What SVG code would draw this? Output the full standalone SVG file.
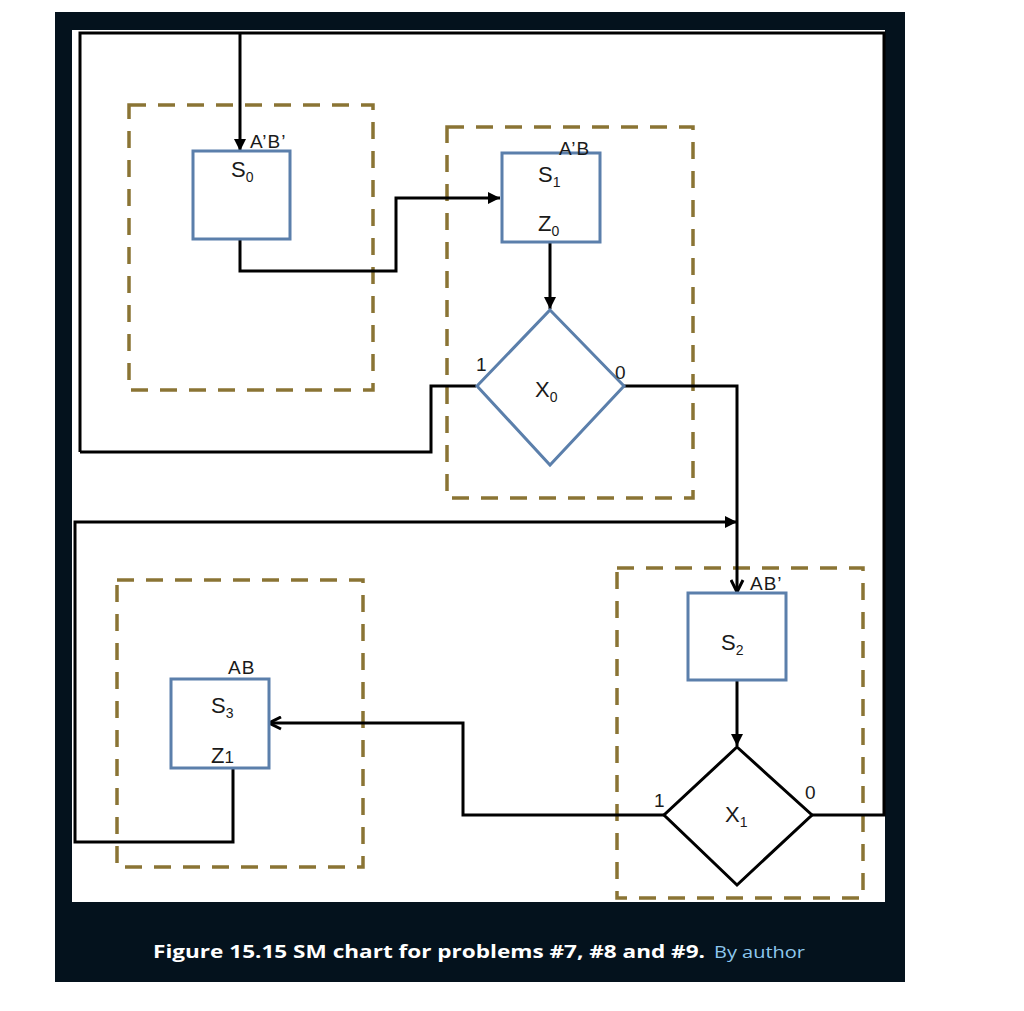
<svg xmlns="http://www.w3.org/2000/svg" width="1024" height="1011" viewBox="0 0 1024 1011">
<style>
.wire{fill:none;stroke:#000;stroke-width:3;stroke-linejoin:miter}
.dash{fill:none;stroke:#8a7434;stroke-width:3.5;stroke-dasharray:17 12}
.state{fill:#fff;stroke:#5b7fab;stroke-width:3}
.lbl{font-family:"Liberation Sans",Arial,sans-serif;font-size:19px;fill:#1a1a1a;letter-spacing:1px}
.nm{font-family:"Liberation Sans",Arial,sans-serif;font-size:22px;fill:#1a1a1a}
.sub{font-size:14px}
.cap{font-family:"Open Sans","Liberation Sans",sans-serif;font-size:17px;font-weight:bold;fill:#fff}
</style>
<defs>
<marker id="arr" viewBox="0 0 10 10" refX="10" refY="5" markerWidth="4" markerHeight="4" orient="auto" markerUnits="strokeWidth">
<path d="M0,0 L10,5 L0,10 z" fill="#000"/>
</marker>
<marker id="chev" viewBox="0 0 10 10" refX="9" refY="5" markerWidth="5" markerHeight="5" orient="auto" markerUnits="strokeWidth">
<path d="M1,1 L9,5 L1,9" fill="none" stroke="#000" stroke-width="2"/>
</marker>
</defs>
<rect x="0" y="0" width="1024" height="1011" fill="#fff"/>
<rect x="55" y="12" width="850" height="970" fill="#04121d"/>
<rect x="72" y="30" width="813" height="872" fill="#fff"/>

<g id="groups">
<rect id="block0" class="dash" x="129" y="105" width="244" height="285"/>
<rect id="block1" class="dash" x="447" y="127" width="246" height="371"/>
<rect id="block2" class="dash" x="617" y="568" width="246" height="330"/>
<rect id="block3" class="dash" x="117" y="580" width="246" height="287"/>
</g>

<g id="connectors">
<polyline class="wire" points="80,452 80,33 884,33 884,815 812,815"/>
<polyline class="wire" points="240,33 240,151" marker-end="url(#arr)"/>
<polyline class="wire" points="240,239 240,271 396,271 396,198 500,198" marker-end="url(#arr)"/>
<polyline class="wire" points="550,242 550,309" marker-end="url(#arr)"/>
<polyline class="wire" points="476,386 431,386 431,452 80,452"/>
<polyline class="wire" points="624,386 737,386 737,592" marker-end="url(#chev)"/>
<polyline class="wire" points="233,768 233,842 75,842 75,522 737,522" marker-end="url(#arr)"/>
<polyline class="wire" points="737,680 737,746" marker-end="url(#arr)"/>
<polyline class="wire" points="664,815 463,815 463,723 269,723" marker-end="url(#chev)"/>
</g>

<g id="S0">
<rect class="state" x="193" y="151" width="97" height="88"/>
<text class="lbl" x="250" y="148">A’B’</text>
<text class="nm" x="231" y="177">S<tspan class="sub" dy="5">0</tspan></text>
</g>
<g id="S1">
<rect class="state" x="502" y="153" width="98" height="89"/>
<text class="lbl" x="559" y="155">A’B</text>
<text class="nm" x="538" y="182">S<tspan class="sub" dy="5">1</tspan></text>
<text class="nm" x="538" y="231">Z<tspan class="sub" dy="5">0</tspan></text>
</g>
<g id="X0">
<polygon class="state" points="550,310 624,386 550,465 477,386"/>
<text class="lbl" x="476" y="371">1</text>
<text class="lbl" x="615" y="379">0</text>
<text class="nm" x="535" y="397">X<tspan class="sub" dy="5">0</tspan></text>
</g>
<g id="S2">
<rect class="state" x="688" y="593" width="98" height="87"/>
<text class="lbl" x="750" y="590">AB’</text>
<text class="nm" x="721" y="650">S<tspan class="sub" dy="5">2</tspan></text>
</g>
<g id="X1">
<polygon points="737,747 812,815 737,885 664,815" fill="#fff" stroke="#000" stroke-width="3"/>
<text class="lbl" x="654" y="807">1</text>
<text class="lbl" x="805" y="799">0</text>
<text class="nm" x="725" y="822">X<tspan class="sub" dy="5">1</tspan></text>
</g>
<g id="S3">
<rect class="state" x="171" y="679" width="98" height="89"/>
<text class="lbl" x="228" y="674">AB</text>
<text class="nm" x="211" y="713">S<tspan class="sub" dy="5">3</tspan></text>
<text class="nm" x="211" y="763">Z<tspan font-size="17px">1</tspan></text>
</g>

<g id="caption">
<text class="cap" x="153" y="958" textLength="552" lengthAdjust="spacingAndGlyphs">Figure 15.15 SM chart for problems #7, #8 and #9.</text>
<text x="714" y="958" font-family="'Open Sans','Liberation Sans',sans-serif" font-size="16px" fill="#8ec8ee" textLength="91" lengthAdjust="spacingAndGlyphs">By author</text>
</g>
</svg>
